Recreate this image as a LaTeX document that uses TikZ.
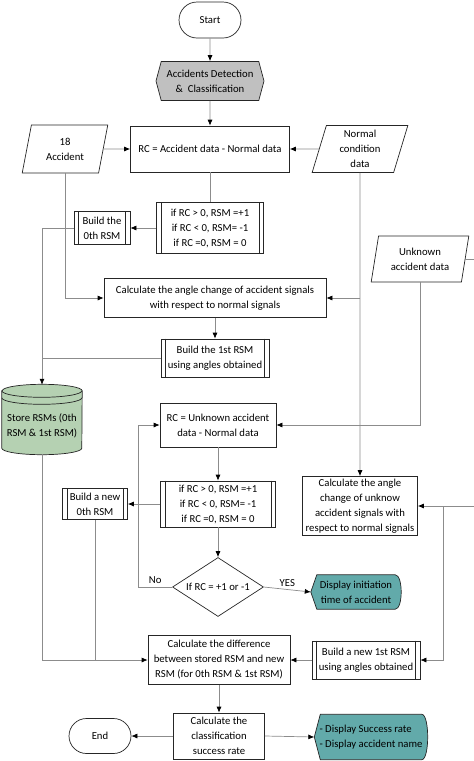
\documentclass[tikz,border=0pt]{standalone}
\usepackage{fontspec}
\setmainfont{Carlito}
\usepackage{tikz}
\usetikzlibrary{positioning,shapes.geometric,shapes.misc,shapes.symbols,arrows.meta,backgrounds,calc}
\definecolor{lineCol}{RGB}{140, 140, 140}
\definecolor{prepCol}{RGB}{192, 192, 192}
\definecolor{storeCol}{RGB}{181, 209, 178}
\definecolor{dispCol}{RGB}{98, 170, 170}
\tikzset{myBox/.style={draw=black!85, line width=0.7pt, inner sep=0pt, align=center, font=\fontsize{10.7pt}{15pt}\selectfont}}
\tikzset{myProc/.style={myBox, rectangle, fill=white}}
\tikzset{myPredef/.style={myProc, append after command={
	\pgfextra{\let\myPreNode\tikzlastnode}
	([xshift=5pt]\myPreNode.north west) edge[draw=black!85, line width=0.7pt] ([xshift=5pt]\myPreNode.south west)
	([xshift=-5pt]\myPreNode.north east) edge[draw=black!85, line width=0.7pt] ([xshift=-5pt]\myPreNode.south east)}}}
\tikzset{myData/.style={myBox, trapezium, trapezium left angle=77, trapezium right angle=103, trapezium stretches=true, fill=white}}
\tikzset{myTerm/.style={myBox, rounded rectangle, fill=white}}
\tikzset{myPrep/.style={myBox, signal, signal to=east and west, signal pointer angle=150, fill=prepCol}}
\tikzset{myDecision/.style={myBox, diamond, aspect=1.54, fill=white}}
\tikzset{myPlain/.style={inner sep=0pt, align=center, font=\fontsize{10.7pt}{15pt}\selectfont}}
\tikzset{myLine/.style={draw=lineCol, line width=0.7pt}}
\tikzset{myArrow/.style={myLine, -{Latex[length=6pt, width=5pt, color=black]}}}

\begin{document}
\begin{tikzpicture}[x=1pt, y=-1pt]
	\useasboundingbox (0,0) rectangle (474,761);
	\clip (0,0) rectangle (474,761);

	% top part
	\node[myTerm, minimum width=62, minimum height=36] (start) at (210,20) {Start};
	\node[myPrep, minimum width=108, minimum height=39] (acd) at (210,81) {Accidents Detection\\\&\ \ Classification};
	\node[myProc, minimum width=159, minimum height=46] (rc1) at (210,149) {RC = Accident data - Normal data};
	\node[myData, minimum width=86, minimum height=48] (acc) at (65,149) {18\\Accident};
	\node[myData, minimum width=96, minimum height=47] (ncd) at (360,149) {Normal\\condition\\data};
	\node[myPredef, minimum width=107, minimum height=51] (if1) at (210,228) {if RC > 0, RSM =+1\\if RC < 0, RSM= -1\\if RC =0, RSM = 0};
	\node[myPredef, minimum width=56, minimum height=33] (b0) at (102,228) {Build the\\0th RSM};
	\node[myProc, minimum width=222, minimum height=39] (ca1) at (215,298) {Calculate the angle change of accident signals\\with respect to normal signals};
	\node[myPredef, minimum width=108, minimum height=38] (b1) at (215,358) {Build the 1st RSM\\using angles obtained};
	\node[myPlain, minimum width=80, minimum height=56] (st) at (42,426) {Store RSMs (0th\\RSM \& 1st RSM)};
	\coordinate (stTop) at ([yshift=13pt]st.north);

	% unknown accident part
	\node[myData, minimum width=98, minimum height=46] (uad) at (420,259) {Unknown\\accident data};
	\node[myProc, minimum width=116, minimum height=44] (rc2) at (218,425) {RC = Unknown accident\\data - Normal data};
	\node[myPredef, minimum width=115, minimum height=46] (if2) at (218,504) {if RC > 0, RSM =+1\\if RC < 0, RSM= -1\\if RC =0, RSM = 0};
	\node[myPredef, minimum width=65, minimum height=31] (nb0) at (95,504) {Build a new\\0th RSM};
	\node[myProc, minimum width=115, minimum height=59] (cau) at (360,506) {Calculate the angle\\change of unknow\\accident signals with\\respect to normal signals};
	\node[myDecision, minimum width=91, minimum height=59] (dec) at (218,587) {If RC = +1 or -1};
	\node[myPlain, minimum width=90, minimum height=34] (da) at (356,592) {Display initiation\\time of accident};
	\node[myPredef, minimum width=108, minimum height=38] (nb1) at (366,660) {Build a new 1st RSM\\using angles obtained};
	\node[myProc, minimum width=142, minimum height=49] (cd) at (219,660) {Calculate the difference\\between stored RSM and new\\RSM (for 0th RSM \& 1st RSM)};
	\node[myProc, minimum width=91, minimum height=46] (cl) at (219,736) {Calculate the\\classification\\success rate};
	\node[myTerm, minimum width=62, minimum height=35] (en) at (100,736) {End};
	\node[myPlain, minimum width=113, minimum height=45, align=left] (ds) at (371,737) {- Display Success rate\\- Display accident name};

	% shapes drawn behind
	\begin{pgfonlayer}{background}
		\filldraw[fill=storeCol, draw=black!85, line width=0.7pt] ([yshift=7pt]st.north west) -- ([yshift=6pt]st.south west)
			arc[start angle=180, end angle=360, x radius=40pt, y radius=6.5pt] -- ([yshift=7pt]st.north east)
			arc[start angle=0, end angle=180, x radius=40pt, y radius=6.5pt] -- cycle;
		\draw[black!85, line width=0.7pt] ([yshift=7pt]st.north west) arc[start angle=180, end angle=360, x radius=40pt, y radius=6.5pt];
		\draw[black!85, line width=0.7pt] ([yshift=0pt]st.north west) arc[start angle=180, end angle=360, x radius=40pt, y radius=6.5pt];
		\foreach \n in {da,ds}{
			\filldraw[fill=dispCol, draw=black!85, line width=0.7pt] (\n.west) -- ([xshift=6pt]\n.north west) -- ([xshift=-6pt]\n.north east)
				.. controls ([xshift=2pt]\n.north east) and ([xshift=2pt]\n.south east) .. ([xshift=-6pt]\n.south east)
				-- ([xshift=6pt]\n.south west) -- cycle;
		}
	\end{pgfonlayer}

	% connectors
	\draw[myArrow] (start) -- (acd);
	\draw[myArrow] (acd) -- (rc1);
	\draw[myArrow] (acc.east) -- (rc1.west);
	\draw[myArrow] (ncd.west) -- (rc1.east);
	\draw[myLine] (rc1) -- (if1);
	\draw[myArrow] (if1.west) -- (b0.east);
	\draw[myArrow] (b0.west) -| (stTop);
	\draw[myArrow] (acc.south) |- (ca1.west);
	\draw[myArrow] (ncd.south) -- (cau.north);
	\draw[myArrow] (ncd.south |- ca1.east) -- (ca1.east);
	\draw[myArrow] (ca1) -- (b1);
	\draw[myLine] (b1.west) -- (b1.west -| stTop);
	\draw[myArrow] (uad.south) |- (rc2.east);
	\draw[myArrow] (uad.east) -- ++(40,0) |- (cau.east);
	\path (cau.east) -- ++(25,0) coordinate (rBr);
	\draw[myArrow] (rBr) |- (nb1.east);
	\draw[myArrow] (rc2) -- (if2);
	\draw[myArrow] (if2.west) -- (nb0.east);
	\draw[myArrow] (if2) -- (dec);
	\draw[myArrow] (dec.west) -- node[myPlain, above=3pt] (lblNo) {No} ++(-34,0) |- (rc2.west);
	\draw[myArrow] (dec.east) -- node[myPlain, above=3pt] (lblYes) {YES} (da.west);
	\draw[myLine] (nb0.south) -- (nb0.south |- cd.west);
	\draw[myArrow] (st.south) |- (cd.west);
	\draw[myArrow] (nb1.west) -- (cd.east);
	\draw[myArrow] (cd) -- (cl);
	\draw[myArrow] (cl.west) -- (en.east);
	\draw[myArrow] (cl.east) -- (ds.west);
\end{tikzpicture}
\end{document}
